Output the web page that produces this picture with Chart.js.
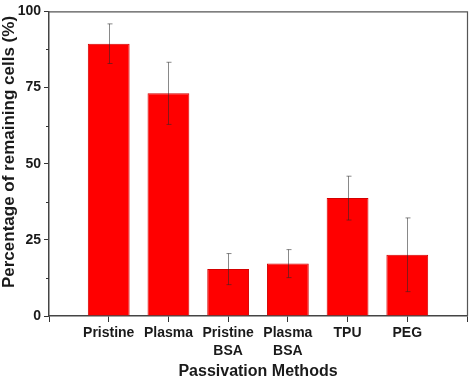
<!DOCTYPE html>
<html>
<head>
<meta charset="utf-8">
<script src="https://cdn.jsdelivr.net/npm/chart.js@4/dist/chart.umd.min.js"></script>
<style>
html,body{margin:0;padding:0;background:#fff;}
#wrap{width:474px;height:384px;position:relative;}
</style>
</head>
<body>
<div id="wrap"><canvas id="c" width="474" height="384"></canvas></div>
<script>
// Data
const categories = ['', 'Pristine', 'Plasma', ['Pristine', 'BSA'], ['Plasma', 'BSA'], 'TPU', 'PEG', ''];
const values = [null, 89.4, 73.1, 15.4, 17.2, 38.7, 20.1, null];
const errors = [null, 6.5, 10.2, 5.1, 4.6, 7.2, 12.1, null];
const yMajorTicks = [0, 25, 50, 75, 100];
const yMinorTicks = [12.5, 37.5, 62.5, 87.5];
const yTitle = 'Percentage of remaining cells (%)';
const xTitle = 'Passivation Methods';

const FONT = "'Liberation Sans', Arial, sans-serif";

const extras = {
  id: 'extras',
  afterDatasetsDraw(chart) {
    const ctx = chart.ctx;
    const y = chart.scales.y;
    const meta = chart.getDatasetMeta(0);
    ctx.save();
    ctx.strokeStyle = 'rgba(40,40,40,0.55)';
    ctx.lineWidth = 1;
    meta.data.forEach((bar, i) => {
      if (values[i] == null) return;
      const x = Math.round(bar.x) + 0.5;
      const top = y.getPixelForValue(values[i] + errors[i]);
      const bot = y.getPixelForValue(values[i] - errors[i]);
      ctx.beginPath();
      ctx.moveTo(x, top); ctx.lineTo(x, bot);
      ctx.moveTo(x - 2, top); ctx.lineTo(x + 3, top);
      ctx.moveTo(x - 2, bot); ctx.lineTo(x + 3, bot);
      ctx.stroke();
    });
    ctx.restore();
  },
  afterDraw(chart) {
    const ctx = chart.ctx;
    const a = chart.chartArea;
    const y = chart.scales.y;
    ctx.save();
    ctx.strokeStyle = '#555';
    ctx.lineWidth = 1.2;
    ctx.beginPath();
    ctx.moveTo(a.left, a.top + 0.5);
    ctx.lineTo(a.right + 0.5, a.top + 0.5);
    ctx.lineTo(a.right + 0.5, a.bottom);
    ctx.stroke();
    ctx.strokeStyle = '#333';
    ctx.lineWidth = 1;
    yMinorTicks.forEach(v => {
      const py = Math.round(y.getPixelForValue(v)) + 0.5;
      ctx.beginPath();
      ctx.moveTo(a.left - 3, py); ctx.lineTo(a.left, py);
      ctx.stroke();
    });
    ctx.fillStyle = '#1a1a1a';
    ctx.font = 'bold 17px ' + FONT;
    ctx.textAlign = 'center';
    ctx.textBaseline = 'middle';
    ctx.translate(9, 152);
    ctx.rotate(-Math.PI / 2);
    ctx.fillText(yTitle, 0, 0);
    ctx.restore();
  }
};

new Chart(document.getElementById('c'), {
  type: 'bar',
  data: {
    labels: categories,
    datasets: [{
      data: values,
      backgroundColor: '#ff0000',
      borderColor: '#d40000',
      borderWidth: 1,
      categoryPercentage: 1,
      barPercentage: 0.7
    }]
  },
  options: {
    responsive: false,
    animation: false,
    devicePixelRatio: 1,
    layout: { padding: { top: 8, right: 7, left: 0, bottom: 0 } },
    plugins: { legend: { display: false }, tooltip: { enabled: false } },
    scales: {
      x: {
        offset: false,
        grid: { display: true, offset: false, drawOnChartArea: false, drawTicks: true, tickLength: 6, color: '#333', tickWidth: 1 },
        border: { display: true, color: '#444', width: 1.5 },
        ticks: {
          autoSkip: false, maxRotation: 0, padding: 2,
          color: '#1a1a1a',
          font: { family: FONT, size: 14, weight: 'bold', lineHeight: 1.3 }
        },
        title: {
          display: true, text: xTitle, color: '#1a1a1a',
          font: { family: FONT, size: 16, weight: 'bold' },
          padding: { top: 0, bottom: 3 }
        },
        afterFit(s) { s.height = 68; }
      },
      y: {
        min: 0, max: 100,
        afterBuildTicks(s) { s.ticks = yMajorTicks.map(v => ({ value: v })); },
        grid: { display: true, drawOnChartArea: false, drawTicks: true, tickLength: 5, color: '#333' },
        border: { display: true, color: '#444', width: 1.5 },
        ticks: {
          padding: 3, color: '#1a1a1a',
          font: { family: FONT, size: 14, weight: 'bold' }
        },
        afterFit(s) { s.width = 49; }
      }
    }
  },
  plugins: [extras]
});
</script>
</body>
</html>
